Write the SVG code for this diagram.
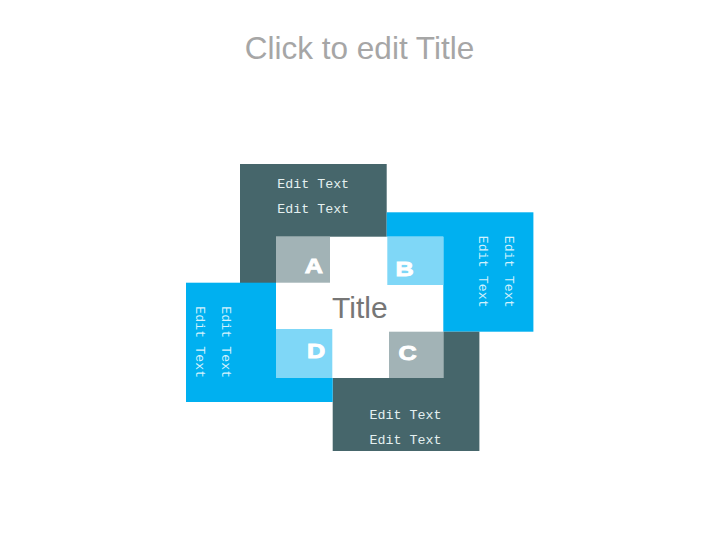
<svg xmlns="http://www.w3.org/2000/svg" width="721" height="540" viewBox="0 0 721 540">
<style>
.dark{fill:#46666B}
.blue{fill:#00B0F0}
.gray{fill:#A2B3B6}
.lblue{fill:#7FD7F7}
.et{font-family:"Liberation Mono",monospace;font-size:13.3px;text-anchor:middle}
.etd{fill:#E4F0F0}
.etb{fill:#D2F1FD}
.let{font-family:"Liberation Sans",Arial,sans-serif;font-weight:bold;font-size:21px;fill:#FFFFFF;stroke:#FFFFFF;stroke-width:0.9;text-anchor:middle}
</style>
<rect width="721" height="540" fill="#FFFFFF"/>
<text x="359.5" y="58.7" font-family="Liberation Sans, Arial, sans-serif" font-size="31.5" fill="#A6A6A6" text-anchor="middle">Click to edit Title</text>
<g id="top-block">
<rect class="dark" x="240" y="164" width="146.7" height="119"/>
<text class="et etd" x="313.2" y="188.3">Edit Text</text>
<text class="et etd" x="313.2" y="213.3">Edit Text</text>
</g>
<g id="right-block">
<rect class="blue" x="386.7" y="212.3" width="146.7" height="119.4"/>
<text class="et etb" transform="translate(505,271.7) rotate(90)">Edit Text</text>
<text class="et etb" transform="translate(479.3,271.7) rotate(90)">Edit Text</text>
</g>
<g id="bottom-block">
<rect class="dark" x="332.7" y="331.7" width="146.7" height="119.3"/>
<text class="et etd" x="405.5" y="419.3">Edit Text</text>
<text class="et etd" x="405.5" y="444.3">Edit Text</text>
</g>
<g id="left-block">
<rect class="blue" x="186" y="282.7" width="146.7" height="119.3"/>
<text class="et etb" transform="translate(221.7,342.2) rotate(90)">Edit Text</text>
<text class="et etb" transform="translate(196,342.2) rotate(90)">Edit Text</text>
</g>
<g id="center">
<rect x="276" y="236.7" width="167.3" height="141.3" fill="#FFFFFF"/>
<text x="359.8" y="317.7" font-family="Liberation Sans, Arial, sans-serif" font-size="30" fill="#767676" text-anchor="middle">Title</text>
</g>
<g id="node-A">
<rect class="gray" x="276" y="236.7" width="54" height="46"/>
<text class="let" transform="translate(313.8,273.3) scale(1.2,1)">A</text>
</g>
<g id="node-B">
<rect class="lblue" x="387.3" y="236.7" width="56" height="48.3"/>
<text class="let" transform="translate(404.7,276) scale(1.2,1)">B</text>
</g>
<g id="node-C">
<rect class="gray" x="389" y="331.7" width="54.3" height="46.3"/>
<text class="let" transform="translate(407.5,359.8) scale(1.2,1)">C</text>
</g>
<g id="node-D">
<rect class="lblue" x="276" y="329" width="56.3" height="49"/>
<text class="let" transform="translate(316.2,357.7) scale(1.2,1)">D</text>
</g>
<g id="connectors"/>
</svg>
